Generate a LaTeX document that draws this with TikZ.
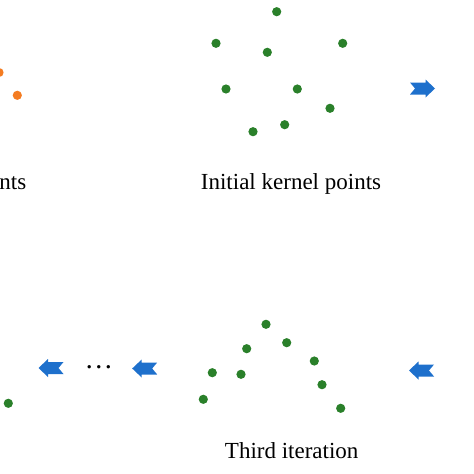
\documentclass[tikz,border=0pt]{standalone}
\usepackage{fontspec}
\setmainfont{Liberation Serif}
\definecolor{ptgreen}{RGB}{42,128,42}
\definecolor{ptorange}{RGB}{244,124,34}
\definecolor{arrblue}{RGB}{30,112,204}
\tikzset{
  dotg/.style={circle,fill=ptgreen,inner sep=0pt,minimum size=9.2pt},
  doto/.style={circle,fill=ptorange,inner sep=0pt,minimum size=9.2pt},
  lbl/.style={inner sep=0pt,font=\fontsize{23}{27}\selectfont},
  blockarrow/.pic={\fill[arrblue] (-12.5,-6) -- (3,-6) -- (3,-9) -- (12.5,0) -- (3,9) -- (3,6) -- (-12.5,6) -- (-7.5,0) -- cycle;}
}
\begin{document}
\begin{tikzpicture}[x=1pt,y=-1pt]
\useasboundingbox (0,0) rectangle (474,474);
% left cut-off group (top)
\node[doto] (o1) at (-1,72.5) {};
\node[doto] (o2) at (17.3,95.3) {};
\node[lbl,anchor=base east] (t0) at (26.5,189) {nts};
% initial kernel points
\node[dotg] (k1) at (276.7,11.7) {};
\node[dotg] (k2) at (216,43.3) {};
\node[dotg] (k3) at (342.7,43.3) {};
\node[dotg] (k4) at (267.3,52.3) {};
\node[dotg] (k5) at (226,89) {};
\node[dotg] (k6) at (297.3,89) {};
\node[dotg] (k7) at (330,108.3) {};
\node[dotg] (k8) at (284.7,124.7) {};
\node[dotg] (k9) at (253,131.7) {};
\node[lbl,anchor=base] (t1) at (291,189) {Initial kernel points};
% arrows
\pic at (422.5,88.5) {blockarrow};
\pic[rotate=180] at (421.5,370.5) {blockarrow};
\pic[rotate=180] at (144.7,368.5) {blockarrow};
\pic[rotate=180] at (51,368) {blockarrow};
\node[inner sep=0pt,anchor=base,font=\fontsize{28.5}{30}\selectfont] (dots) at (98.8,368.8) {…};
% third iteration
\node[dotg] (s1) at (266,324.3) {};
\node[dotg] (s2) at (246.7,348.7) {};
\node[dotg] (s3) at (286.7,342.7) {};
\node[dotg] (s4) at (212.3,372.7) {};
\node[dotg] (s5) at (241,374.3) {};
\node[dotg] (s6) at (314.3,361) {};
\node[dotg] (s7) at (322,384.7) {};
\node[dotg] (s8) at (203.3,399.3) {};
\node[dotg] (s9) at (340.7,408.3) {};
\node[lbl,anchor=base] (t2) at (291.7,458) {Third iteration};
% bottom-left cut-off group
\node[dotg] (b1) at (8.3,403.3) {};
\end{tikzpicture}
\end{document}
